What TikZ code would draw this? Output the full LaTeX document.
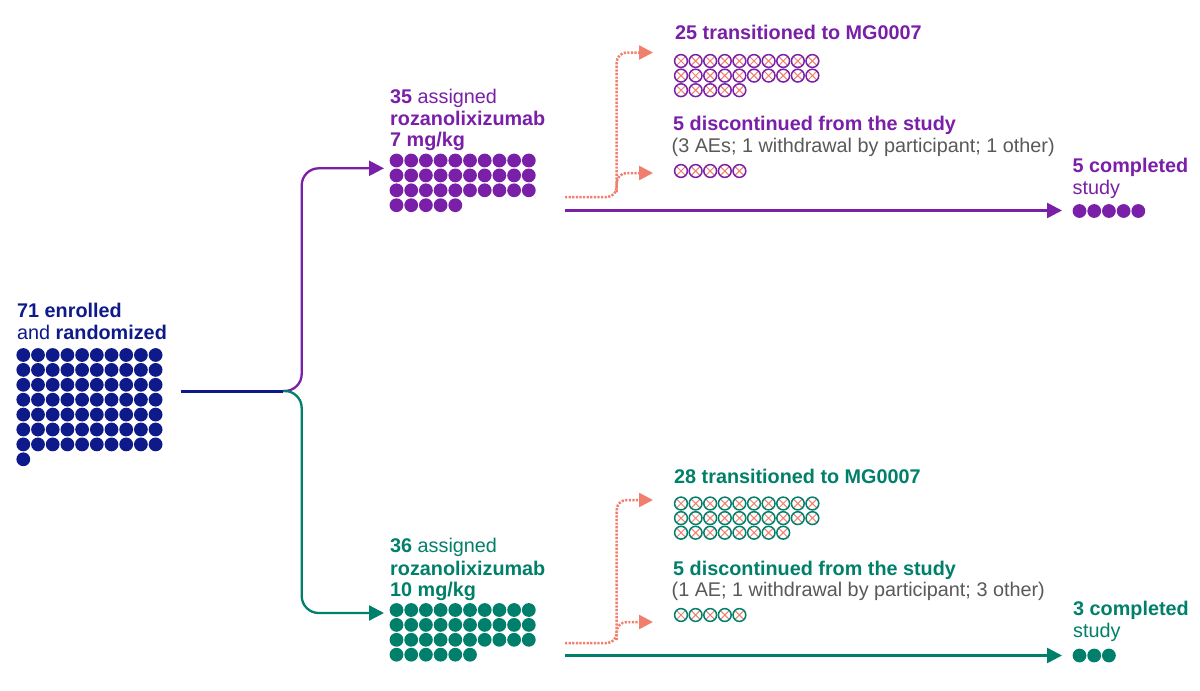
\documentclass[tikz,border=0pt]{standalone}
\usepackage{fontspec}
\setmainfont{Liberation Sans}
\usetikzlibrary{arrows.meta}
\definecolor{navy}{HTML}{0E1A8A}
\definecolor{purp}{HTML}{7A1FA8}
\definecolor{grn}{HTML}{00806A}
\definecolor{salm}{HTML}{F07F6E}
\definecolor{txtgray}{HTML}{595959}
% #1 x0, #2 y0, #3 cols, #4 count, #5 colour
\newcommand\mydotgrid[5]{%
  \foreach \i in {1,...,#4}{%
    \pgfmathtruncatemacro\cc{mod(\i-1,#3)}%
    \pgfmathtruncatemacro\rr{div(\i-1,#3)}%
    \fill[#5] (#1+\cc*14.7, #2+\rr*14.9) circle (6.9);}}
% #1 x0, #2 y0, #3 cols, #4 count, #5 colour, #6 row spacing
\newcommand\myxgrid[6]{%
  \foreach \i in {1,...,#4}{%
    \pgfmathtruncatemacro\cc{mod(\i-1,#3)}%
    \pgfmathtruncatemacro\rr{div(\i-1,#3)}%
    \begin{scope}[shift={(#1+\cc*14.6, #2+\rr*#6)}]
      \draw[salm, line width=1pt] (-4.5,-4.5) -- (4.5,4.5) (-4.5,4.5) -- (4.5,-4.5);
      \draw[#5, line width=1.5pt] (0,0) circle (6.4);
    \end{scope}}}
\tikzset{
  lbl/.style={inner sep=0pt, anchor=base west, font=\fontsize{19.8}{22}\selectfont},
  mainline/.style={line width=2.6pt},
  tipbig/.style={-{Triangle[length=15pt,width=15pt]}},
  dotline/.style={salm, line width=2.5pt, dash pattern=on 2.2pt off 1.4pt, rounded corners=10pt,
    -{Triangle[length=14pt,width=14pt]}},
}
\begin{document}
\begin{tikzpicture}[x=1pt,y=-1pt]
\useasboundingbox (0,0) rectangle (1200,691);
\fill[white] (0,0) rectangle (1200,691);

% ---------- enrolled ----------
\node[lbl, text=navy] (enr1) at (17,317.5) {\textbf{71 enrolled}};
\node[lbl, text=navy] (enr2) at (17,339.5) {and \textbf{randomized}};
\mydotgrid{23.3}{355}{10}{71}{navy}

\coordinate (navyStart) at (181,391);
\coordinate (split) at (283,391);
\coordinate (purpTop) at (301.7,168.3);
\coordinate (purpTip) at (384,168.3);
\coordinate (grnBot) at (301.7,613);
\coordinate (grnTip) at (384,613);

\draw[navy, line width=3pt] (navyStart) -- (split);
\draw[purp, line width=2.3pt, rounded corners=17pt, tipbig] (split) -| (purpTop) -- (purpTip);
\draw[grn, line width=2.3pt, rounded corners=17pt, tipbig] (split) -| (grnBot) -- (grnTip);

% ---------- purple arm ----------
\node[lbl, text=purp] (pa1) at (390,103.5) {\textbf{35} assigned};
\node[lbl, text=purp] (pa2) at (390,125.5) {\textbf{rozanolixizumab}};
\node[lbl, text=purp] (pa3) at (390,146.5) {\textbf{7 mg/kg}};
\mydotgrid{396.5}{160.5}{10}{35}{purp}

\coordinate (pDotStart) at (565,197);
\coordinate (pDotV) at (616.7,52.5);
\coordinate (pDotTip1) at (653,52.5);
\coordinate (pDotB) at (616.7,192);
\coordinate (pDotTip2) at (653,173);
\draw[dotline] (pDotStart) -| (pDotV) -- (pDotTip1);
\draw[dotline] (pDotB) |- (pDotTip2);

\node[lbl, text=purp] (pt) at (675,39.5) {\textbf{25 transitioned to MG0007}};
\myxgrid{681}{61}{10}{25}{purp}{14.6}
\node[lbl, text=purp] (pd) at (673,130.5) {\textbf{5 discontinued from the study}};
\node[lbl, text=txtgray] (pdr) at (671.5,152) {(3 AEs; 1 withdrawal by participant; 1 other)};
\myxgrid{681}{171}{10}{5}{purp}{14.6}

\coordinate (pMainStart) at (565,210.5);
\coordinate (pMainTip) at (1062,210.5);
\draw[purp, mainline, tipbig] (pMainStart) -- (pMainTip);
\node[lbl, text=purp] (pc1) at (1072.5,172) {\textbf{5 completed}};
\node[lbl, text=purp] (pc2) at (1072.5,194.5) {study};
\mydotgrid{1079.5}{211}{10}{5}{purp}

% ---------- green arm ----------
\node[lbl, text=grn] (ga1) at (390,552.5) {\textbf{36} assigned};
\node[lbl, text=grn] (ga2) at (390,575) {\textbf{rozanolixizumab}};
\node[lbl, text=grn] (ga3) at (390,596) {\textbf{10 mg/kg}};
\mydotgrid{396.5}{610}{10}{36}{grn}

\coordinate (gDotStart) at (565,643);
\coordinate (gDotV) at (616.7,500);
\coordinate (gDotTip1) at (653,500);
\coordinate (gDotB) at (616.7,640);
\coordinate (gDotTip2) at (653,622);
\draw[dotline] (gDotStart) -| (gDotV) -- (gDotTip1);
\draw[dotline] (gDotB) |- (gDotTip2);

\node[lbl, text=grn] (gt) at (674,483) {\textbf{28 transitioned to MG0007}};
\myxgrid{681}{503.5}{10}{28}{grn}{14.6}
\node[lbl, text=grn] (gd) at (673,575) {\textbf{5 discontinued from the study}};
\node[lbl, text=txtgray] (gdr) at (671.5,596.5) {(1 AE; 1 withdrawal by participant; 3 other)};
\myxgrid{681}{615}{10}{5}{grn}{14.6}

\coordinate (gMainStart) at (565,655.5);
\coordinate (gMainTip) at (1062,655.5);
\draw[grn, mainline, tipbig] (gMainStart) -- (gMainTip);
\node[lbl, text=grn] (gc1) at (1073,615) {\textbf{3 completed}};
\node[lbl, text=grn] (gc2) at (1073,637.5) {study};
\mydotgrid{1079.5}{655.5}{10}{3}{grn}
\end{tikzpicture}
\end{document}
